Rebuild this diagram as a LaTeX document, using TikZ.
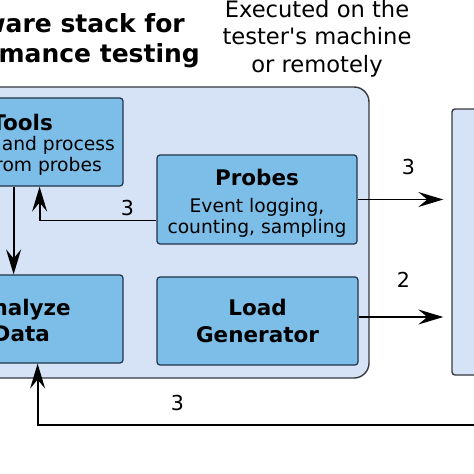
\documentclass[tikz,border=0pt]{standalone}
\usepackage{fontspec}
\setmainfont{DejaVu Sans}
\newfontfamily\plainquote{DejaVu Sans}
\usetikzlibrary{arrows.meta, positioning}
\definecolor{panelfill}{RGB}{214,226,245}
\definecolor{panelline}{RGB}{55,57,62}
\definecolor{blockfill}{RGB}{125,190,233}
\definecolor{blockline}{RGB}{32,52,72}

\begin{document}
\begin{tikzpicture}[x=1pt, y=-1pt, >={Stealth[length=25pt, width=15pt, inset=9pt]},
    panel/.style={draw=panelline, line width=1.4pt, fill=panelfill, rounded corners=15pt},
    block/.style={draw=blockline, line width=1.2pt, fill=blockfill, rounded corners=3pt, inner sep=0pt},
    boxtitle/.style={font=\fontsize{21.5}{27}\selectfont\bfseries, inner sep=0pt},
    boxtext/.style={font=\fontsize{18.7}{21}\selectfont, inner sep=0pt},
    flow/.style={->, line width=1.8pt},
    num/.style={font=\fontsize{20.6}{24}\selectfont, inner sep=0pt}]

    \useasboundingbox (0,0) rectangle (474,474);
    \clip (0,0) rectangle (474,474);

    % Headings
    \node[font=\fontsize{25}{30}\selectfont\bfseries, inner sep=0pt, anchor=base east] (head1) at (185,32) {ware stack for};
    \node[font=\fontsize{25}{30}\selectfont\bfseries, inner sep=0pt, anchor=base east] (head2) at (200,62) {mance testing};
    \node[font=\fontsize{22.6}{27.8}\selectfont, inner sep=0pt, align=center] (where) at (317,38.6) {Executed on the\\tester{\plainquote '}s machine\\or remotely};

    % Containers
    \node[panel, minimum width=469pt, minimum height=291pt] (stack) at (134.5,232.5) {};
    \node[panel, rounded corners=3pt, minimum width=108pt, minimum height=266pt] (target) at (506,242) {};

    % Blocks
    \node[block, minimum width=203pt, minimum height=88pt] (tools) at (21.5,142) {};
    \node[block, minimum width=203pt, minimum height=88pt] (analyze) at (21.5,319) {};
    \node[block, minimum width=200pt, minimum height=89pt] (probes) at (257,199.5) {};
    \node[block, boxtitle, minimum width=201pt, minimum height=88pt, align=center] (load) at (257.5,321) {Load\\Generator};

    % Block texts
    \node[boxtitle, anchor=base east] (toolstitle) at (53,130.5) {Tools};
    \node[boxtext, anchor=base east] (toolsline1) at (115,150) {and process};
    \node[boxtext, anchor=base east] (toolsline2) at (102,171) {rom probes};
    \node[boxtitle, anchor=base east] (analyzeline1) at (71,315) {nalyze};
    \node[boxtitle, anchor=base east] (analyzeline2) at (50,341) {Data};
    \node[boxtext, align=center] (probestext) at (257,202.8) {\textbf{\fontsize{21.5}{21}\selectfont Probes}\\[6pt]Event logging,\\counting, sampling};

    % Connectors
    \draw[flow] ([xshift=-110pt]tools.south east) -- ([xshift=-110pt]analyze.north east);
    \draw[flow] ([yshift=-21pt]probes.west) -| ([xshift=-84pt]tools.south east);
    \draw[flow, shorten >=8pt] (probes.east) -- (probes.east -| target.west);
    \draw[flow, shorten >=8pt] ([yshift=4pt]load.east) -- ([yshift=4pt]load.east -| target.west);
    \coordinate (back) at (480,425);
    \draw[flow] (back) -| ([xshift=-86pt]analyze.south east);

    % Counts
    \node[num] (count1) at (127.5,207.5) {3};
    \node[num] (count2) at (408.5,167) {3};
    \node[num] (count3) at (403.5,280) {2};
    \node[num] (count4) at (177.5,403) {3};

\end{tikzpicture}
\end{document}
